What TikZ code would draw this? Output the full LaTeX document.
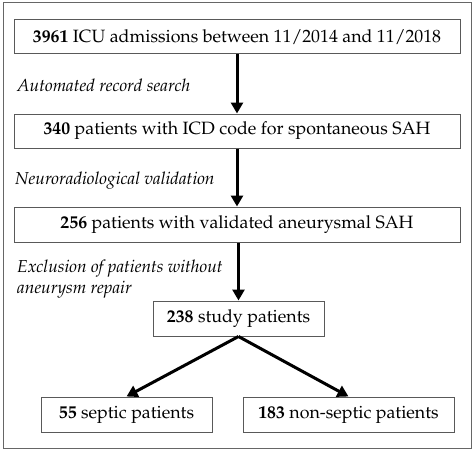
\documentclass[tikz,border=0pt]{standalone}
\usepackage[T1]{fontenc}
\usepackage{mathpazo}
\usetikzlibrary{arrows.meta}
\tikzstyle{stage}=[draw=black!65,line width=1pt,minimum height=34pt,inner sep=0pt,font=\fontsize{17.8}{20}\selectfont]
\tikzstyle{step note}=[anchor=west,align=left,inner sep=0pt,font=\fontsize{17.3}{21}\selectfont\itshape]
\tikzstyle{flow}=[line width=3pt,-{Triangle[length=11pt,width=12pt]}]
\def\subscale{1}

\begin{document}
\begin{tikzpicture}[x=\subscale pt,y=-\subscale pt]
			\useasboundingbox (0,0) rectangle (474,452);
			\draw[draw=black!60,line width=1pt] (3,3) rectangle (471,448);
			\node[stage,minimum width=446pt] (adm) at (237,37){\textbf{3961} ICU admissions between 11/2014 and 11/2018};
			\node[stage,minimum width=446pt] (icd) at (237,131){\textbf{340} patients with ICD code for spontaneous SAH};
			\node[stage,minimum width=446pt,minimum height=35pt] (val) at (237,224.5){\textbf{256} patients with validated aneurysmal SAH};
			\node[stage,minimum width=171pt,minimum height=35pt] (study) at (238.5,318.5){\textbf{238} study patients};
			\node[stage,minimum width=171pt,minimum height=35pt] (sep) at (126.5,414.5){\textbf{55} septic patients};
			\node[stage,minimum width=211pt,minimum height=35pt] (nonsep) at (348.5,414.5){\textbf{183} non-septic patients};
			\draw[flow] (adm.south) -- (icd.north);
			\draw[flow] (icd.south) -- (val.north);
			\draw[flow] (val.south -| study.north) -- (study.north);
			\draw[flow] (study.south) -- (sep.north);
			\draw[flow] (study.south) -- (nonsep.north);
			\node[step note] (n1) at (17,85){Automated record search};
			\node[step note] (n2) at (15,181){Neuroradiological validation};
			\node[step note] (n3) at (17,279){Exclusion of patients without\\aneurysm repair};
		\end{tikzpicture}
\end{document}
